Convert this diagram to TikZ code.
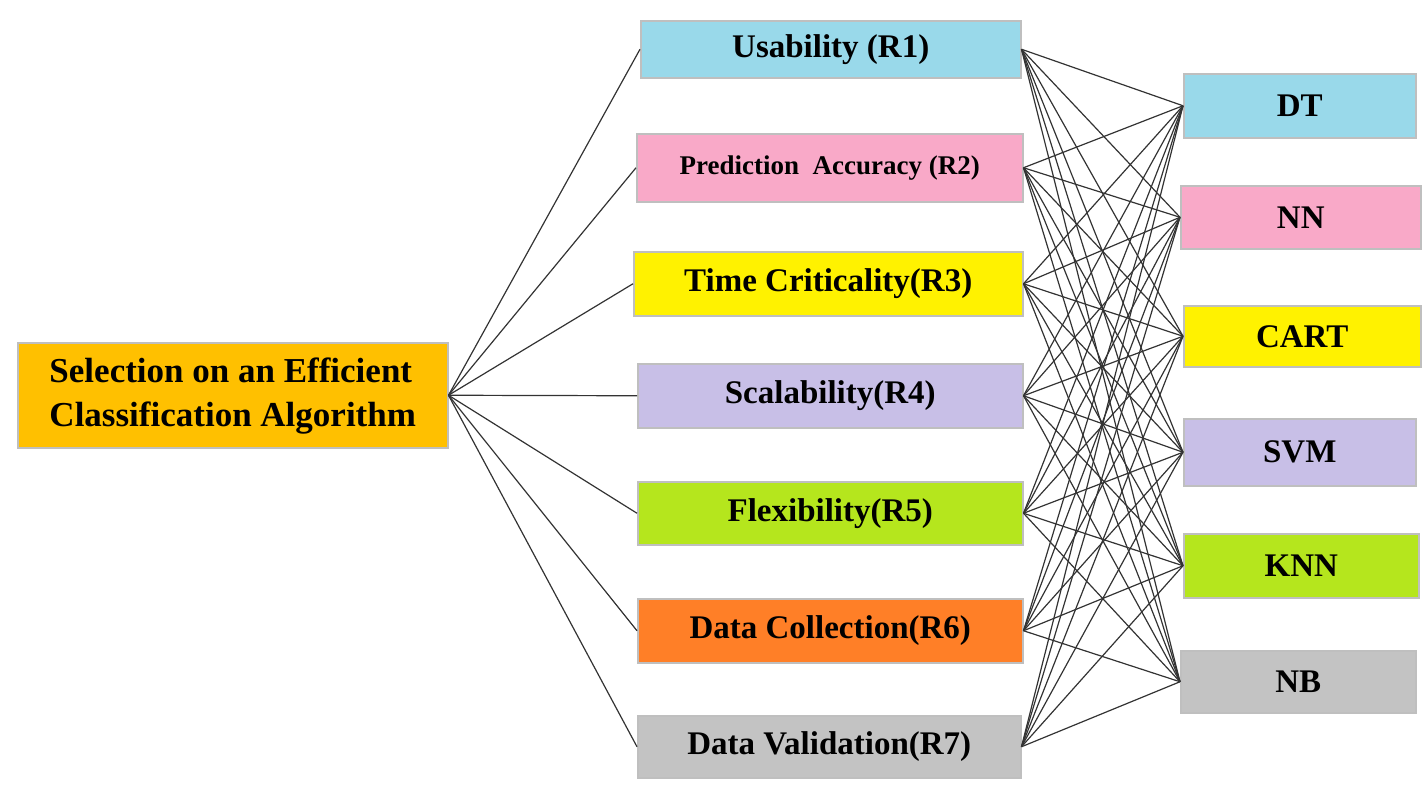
\documentclass[tikz,border=0pt]{standalone}
\usepackage{fontspec}
\setmainfont{Liberation Serif}
\begin{document}
\begin{tikzpicture}[x=1pt,y=-1pt,
  box/.style={draw=gray!50,line width=1.5pt,inner sep=0pt,font=\fontsize{33}{38}\selectfont\bfseries},
  ln/.style={line width=1.2pt,black!80}]
\useasboundingbox (0,0) rectangle (1428,796);
\definecolor{cMain}{HTML}{FFC000}\definecolor{cBlue}{HTML}{99D9EA}
\definecolor{cPink}{HTML}{F9A9C8}\definecolor{cYel}{HTML}{FFF200}
\definecolor{cLav}{HTML}{C8BFE7}\definecolor{cGrn}{HTML}{B5E61D}
\definecolor{cOr}{HTML}{FF7F27}\definecolor{cGry}{HTML}{C3C3C3}
\newcommand{\bx}[7]{\node[box,fill=#6,minimum width=#3-#2,minimum height=#5-#4,anchor=north west,align=center] (#1) at (#2,#4) {#7};}
\bx{M}{17}{447}{342}{447}{cMain}{\fontsize{35}{44}\selectfont\begin{tabular}{@{}l@{}}Selection on an Efficient\\Classification Algorithm\end{tabular}}
\bx{R1}{640}{1020}{20}{77}{cBlue}{Usability (R1)}
\bx{R2}{636}{1022}{133}{201}{cPink}{\fontsize{27}{32}\selectfont Prediction\ \ Accuracy (R2)}
\bx{R3}{633}{1022}{251}{315}{cYel}{Time Criticality(R3)}
\bx{R4}{637}{1022}{363}{427}{cLav}{Scalability(R4)}
\bx{R5}{637}{1022}{481}{544}{cGrn}{Flexibility(R5)}
\bx{R6}{637}{1022}{598}{662}{cOr}{Data Collection(R6)}
\bx{R7}{637}{1020}{715}{777}{cGry}{Data Validation(R7)}
\bx{A1}{1183}{1415}{73}{137}{cBlue}{DT}
\bx{A2}{1180}{1420}{185}{248}{cPink}{NN}
\bx{A3}{1183}{1420}{305}{366}{cYel}{CART}
\bx{A4}{1183}{1415}{418}{485}{cLav}{SVM}
\bx{A5}{1183}{1418}{533}{597}{cGrn}{KNN}
\bx{A6}{1180}{1415}{650}{712}{cGry}{NB}
\foreach \i in {1,...,7}{\draw[ln] (M.east) -- (R\i.west);
  \foreach \j in {1,...,6}{\draw[ln] (R\i.east) -- (A\j.west);}}
\end{tikzpicture}
\end{document}
